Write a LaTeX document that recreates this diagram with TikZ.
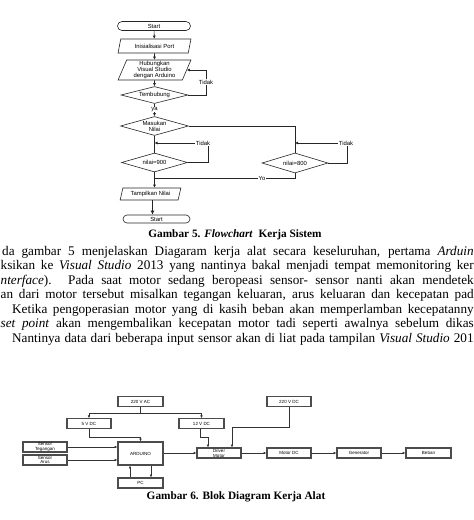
\documentclass[tikz,border=0pt]{standalone}
\usepackage{fontspec}
\setmainfont{Liberation Serif}
\newfontfamily\arialf{Liberation Sans}
\usetikzlibrary{shapes.geometric,arrows.meta}
\newcommand\fcfont{\arialf\fontsize{5.9}{6.1}\selectfont}
\newcommand\bdfont{\arialf\fontsize{4.5}{4.8}\selectfont}
\newcommand\ptext{\fontsize{13.2}{14.5}\selectfont}
\newcommand\capfont{\bfseries\fontsize{11.3}{12}\selectfont}
\begin{document}
\begin{tikzpicture}[x=1pt,y=-1pt,
  fl/.style={draw=black!85, line width=0.6pt},
  term/.style={fl, rectangle, rounded corners=4.5pt, minimum height=9pt, inner sep=0pt, font=\fcfont},
  para/.style={fl, trapezium, trapezium left angle=70, trapezium right angle=110,
     trapezium stretches=true, minimum width=73pt, inner sep=0pt, font=\fcfont, align=center},
  dia/.style={fl, diamond, inner sep=0pt},
  dlab/.style={font=\fcfont, align=center},
  lbl/.style={font=\fcfont, fill=white, inner sep=0.6pt},
  arr/.style={line width=0.6pt, draw=black!85, -{Latex[length=3pt,width=3pt]}},
  ln/.style={line width=0.6pt, draw=black!85},
  box/.style={draw=black!70, line width=1.1pt, rectangle, minimum width=44pt, minimum height=9.5pt,
     inner sep=0pt, font=\bdfont, align=center},
  barr/.style={line width=0.7pt, draw=black!80, -{Latex[length=2.8pt,width=2.6pt]}},
  bln/.style={line width=0.7pt, draw=black!80},
  ptx/.style={anchor=base west, inner sep=0pt, font=\ptext}
]
\useasboundingbox (0,0) rectangle (474,520);
\clip (0,0) rectangle (474,520);
\fill[white] (0,0) rectangle (474,520);

% ---------------- Flowchart ----------------
\node[term, minimum width=73pt] (start) at (154,26) {Start};
\node[para, minimum height=14pt] (init) at (154.5,46) {Inisialisasi Port};
\node[para, minimum height=20pt] (hub) at (154.5,70) {Hubungkan\\Visual Studio\\dengan Arduino};
\node[dia, minimum width=67pt, minimum height=17pt, label={[dlab]center:Tembubung}] (temb) at (154.5,95) {};
\node[dia, minimum width=68pt, minimum height=19pt, label={[dlab]center:Masukan\\Nilai}] (masuk) at (154.5,126) {};
\node[dia, minimum width=66pt, minimum height=19pt, label={[dlab]center:nilai=900}] (n900) at (154.5,162.5) {};
\node[dia, minimum width=66pt, minimum height=20pt, label={[dlab]center:nilai=800}] (n800) at (295,163) {};
\node[para, minimum width=61pt, minimum height=12pt] (tamp) at (150.5,194) {Tampilkan Nilai};
\node[term, minimum width=67pt, minimum height=8pt, rounded corners=4pt] (stop) at (156.5,219) {Start};

\coordinate (j1) at (154.5,143);
\coordinate (j2) at (295,143);
\coordinate (jn) at (154.5,178);

\draw[arr] (start) -- (init);
\draw[arr] (init) -- (hub);
\draw[arr] (hub) -- (temb);
\draw[arr] (temb) -- (masuk);
\node[lbl] (ya) at (154.5,109.5) {ya};
\draw[arr] (temb.east) -- ++(18,0) |- (hub.east);
\node[lbl] (t1) at (206,82) {Tidak};
\draw[ln] (masuk.south) -- (n900.north);
\draw[ln] (masuk.east) -| (n800.north);
\draw[arr] (n900.east) -- ++(20,0) |- (j1);
\node[lbl] (t2) at (203,143) {Tidak};
\draw[arr] (n800.east) -- ++(19,0) |- (j2);
\node[lbl] (t3) at (346,143) {Tidak};
\draw[ln] (n900.south) -- (jn);
\draw[ln] (n800.south) |- (jn);
\node[lbl] (yo) at (262,178) {Yo};
\draw[arr] (jn) -- (jn |- tamp.north);
\draw[line width=1.1pt, draw=black!85, -{Latex[length=4pt,width=4pt]}] (tamp.south -| stop.north) ++(-4,0) -- ([xshift=-4pt]stop.north);

\node[font=\capfont] (cap5) at (235,235) {Gambar 5. \textit{Flowchart}\ \ Kerja Sistem};

% ---------------- Paragraph ----------------
\node[ptx] (p1) at (2,255) {\makebox[471.5pt][s]{da gambar 5 menjelaskan Diagaram kerja alat secara keseluruhan, pertama \textit{Arduin}}};
\node[ptx] (p2) at (0.5,269.5) {\makebox[473pt][s]{ksikan ke \textit{Visual Studio} 2013 yang nantinya bakal menjadi tempat memonitoring ker}};
\node[ptx] (p3) at (0.5,284) {\makebox[473pt][s]{\textit{nterface}). Pada saat motor sedang beropeasi sensor- sensor nanti akan mendetek}};
\node[ptx] (p4) at (0.5,298.5) {\makebox[473pt][s]{an dari motor tersebut misalkan tegangan keluaran, arus keluaran dan kecepatan pad}};
\node[ptx] (p5) at (12,313) {\makebox[461.5pt][s]{Ketika pengoperasian motor yang di kasih beban akan memperlamban kecepatanny}};
\node[ptx] (p6) at (0.5,327.5) {\makebox[473pt][s]{\textit{set point} akan mengembalikan kecepatan motor tadi seperti awalnya sebelum dikas}};
\node[ptx] (p7) at (12,342) {\makebox[461.5pt][s]{Nantinya data dari beberapa input sensor akan di liat pada tampilan \textit{Visual Studio} 201}};

% ---------------- Block diagram ----------------
\node[box, minimum width=45pt] (ac) at (140.5,401.5) {220 V AC};
\node[box] (v5) at (89,423.5) {5 V DC};
\node[box, minimum width=45pt] (v12) at (201.5,423.5) {12 V DC};
\node[box] (dc) at (289,401.5) {220 V DC};
\node[box, minimum height=10pt] (st) at (45,447) {Sensor\\Tegangan};
\node[box, minimum height=10pt] (sa) at (45,460) {Sensor\\Arus};
\node[box, minimum width=45pt, minimum height=23pt] (ard) at (140.5,453.5) {ARDUINO};
\node[box, minimum width=45pt, minimum height=10pt] (pc) at (140.5,483) {PC};
\node[box, minimum height=10pt] (drv) at (219,453) {Driver\\Motor};
\node[box, minimum height=10pt] (mot) at (289,453) {Motor DC};
\node[box, minimum height=10pt] (gen) at (359,453) {Generator};
\node[box, minimum width=45pt, minimum height=10pt] (beb) at (428.5,453) {Beban};

\coordinate (acj) at (140.5,413);
\draw[bln] (ac.south) -- (acj);
\draw[barr] (acj) -| (v5.north);
\draw[barr] (acj) -| (v12.north);
\draw[barr] (v5.south) -- ++(0,9) -| (ard.north);
\draw[barr] ([xshift=-1.5pt]v12.south) -- ++(0,9) -| ([xshift=-11pt]drv.north);
\draw[barr] (dc.south) -- ++(0,21) -| ([xshift=13pt]drv.north);
\draw[barr] (st.east) -- (st.east -| ard.west);
\draw[barr] (sa.east) -- (sa.east -| ard.west);
\draw[barr] (ard.east |- drv.west) -- (drv.west);
\draw[barr] (drv) -- (mot);
\draw[barr] (mot) -- (gen);
\draw[barr] (gen) -- (beb);
\draw[barr] ([xshift=-10.5pt]pc.north) -- ([xshift=-10.5pt]ard.south);
\draw[barr] ([xshift=10.5pt]ard.south) -- ([xshift=10.5pt]pc.north);

\node[font=\capfont] (cap6) at (236,497) {Gambar 6. Blok Diagram Kerja Alat};
\end{tikzpicture}
\end{document}
